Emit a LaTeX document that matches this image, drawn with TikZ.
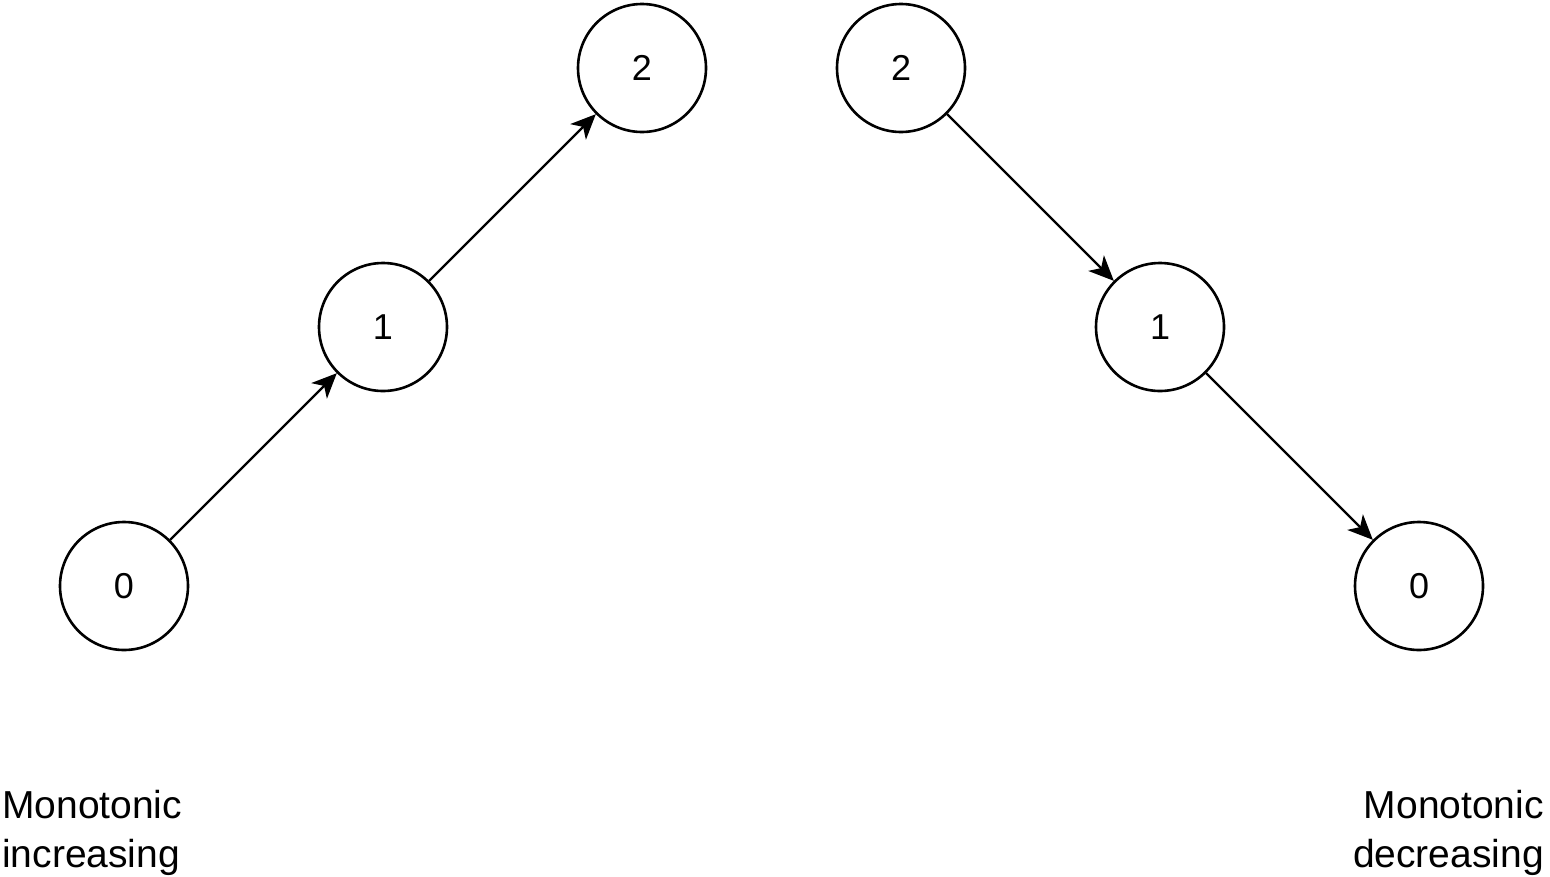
\documentclass[tikz,border=0pt]{standalone}
\usepackage{fontspec}
\setmainfont{Liberation Sans}
\usetikzlibrary{arrows.meta, positioning}

\tikzset{
  state/.style={circle, draw, line width=2.6pt, minimum size=128pt,
                inner sep=0pt, font=\fontsize{36}{42}\selectfont},
  link/.style={line width=2.4pt, -{Stealth[length=25pt, width=22pt, inset=7pt]}},
  caption/.style={inner sep=0pt, font=\fontsize{39}{49}\selectfont}
}

\begin{document}
\begin{tikzpicture}[x=1pt, y=-1pt]
    \useasboundingbox (0,0) rectangle (1550,876);

    % increasing side
    \node[state] (inc0) at (124,586) {0};
    \node[state] (inc1) at (383,327) {1};
    \node[state] (inc2) at (642,68)  {2};
    \draw[link] (inc0) -- (inc1);
    \draw[link] (inc1) -- (inc2);
    \node[caption, anchor=north west, align=left] (inccap) at (2,790)
      {Monotonic\\increasing};

    % decreasing side
    \node[state] (dec2) at (901,68)   {2};
    \node[state] (dec1) at (1160,327) {1};
    \node[state] (dec0) at (1419,586) {0};
    \draw[link] (dec2) -- (dec1);
    \draw[link] (dec1) -- (dec0);
    \node[caption, anchor=north east, align=right] (deccap) at (1544,790)
      {Monotonic\\decreasing};
\end{tikzpicture}
\end{document}
